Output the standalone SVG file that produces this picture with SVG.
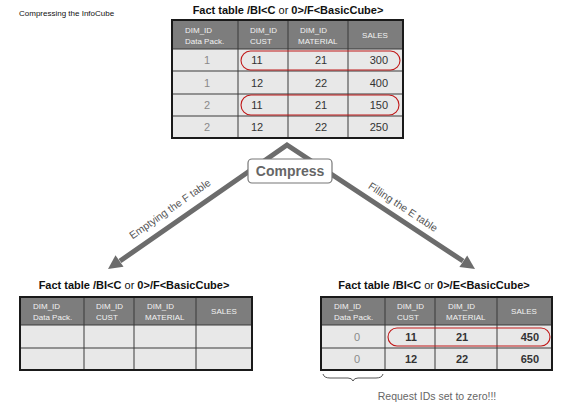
<svg xmlns="http://www.w3.org/2000/svg" width="577" height="407" viewBox="0 0 577 407">
<style>
text{font-family:"Liberation Sans",Arial,sans-serif}
.title{font-size:11px;font-weight:bold;fill:#111;text-anchor:middle}
.title .n{font-weight:normal}
.hdr{fill:#7d7d7d}
.cell{fill:#e8e8e8}
.grid{stroke:#3a3a3a;stroke-width:1;fill:none}
.outer{stroke:#1a1a1a;stroke-width:2;fill:none}
.ht{font-size:8px;fill:#f2f2f2}
.c{text-anchor:middle}
.e{text-anchor:end}
.dp{font-size:11px;fill:#8a8a8a;text-anchor:middle}
.dv{font-size:11px;fill:#333}
.db{font-size:11px;fill:#333;font-weight:bold}
.hl{fill:none;stroke:#c01818;stroke-width:1.1}
.arrow{stroke:#6c6c6c;stroke-width:5;fill:none;stroke-linejoin:miter}
.head{fill:#6c6c6c}
.lbl{font-size:10.5px;fill:#555;text-anchor:middle}
</style>

<text x="19" y="16" font-size="8" fill="#111" font-family="Liberation Sans, Arial, sans-serif">Compressing the InfoCube</text>

<g id="connectors">
  <path class="arrow" d="M120,261 L287,145 L463,261"/>
  <polygon class="head" points="108,269 123.5,266.7 115.5,255.3"/>
  <polygon class="head" points="475,269 459.4,267.1 467.2,255.5"/>
  <text class="lbl" transform="translate(172,212) rotate(-35)">Emptying the F table</text>
  <text class="lbl" transform="translate(401,210) rotate(33.5)">Filling the E table</text>
</g>

<g id="compress">
  <rect x="248" y="159" width="84" height="24" rx="4" fill="#fff" stroke="#777" stroke-width="1.2"/>
  <text x="290" y="176" text-anchor="middle" font-size="14" font-weight="bold" fill="#666">Compress</text>
</g>

<g id="table-f-top">
  <text class="title" x="288" y="14">Fact table /BI&lt;C <tspan class="n">or</tspan> 0&gt;/F&lt;BasicCube&gt;</text>
  <rect class="hdr" x="172" y="20" width="231" height="29"/>
  <rect class="cell" x="172" y="49" width="231" height="89"/>
  <path class="grid" d="M238,20V138M288,20V138M348,20V138M172,49H403M172,71H403M172,94H403M172,116H403"/>
  <rect class="outer" x="172" y="20" width="231" height="118"/>
  <text class="ht" x="185" y="33">DIM_ID</text>
  <text class="ht" x="185" y="44">Data Pack.</text>
  <text class="ht" x="250" y="33">DIM_ID</text>
  <text class="ht" x="250" y="44">CUST</text>
  <text class="ht" x="300" y="33">DIM_ID</text>
  <text class="ht" x="298" y="44">MATERIAL</text>
  <text class="ht c" x="375" y="38">SALES</text>
  <text class="dp" x="207" y="64">1</text>
  <text class="dv c" x="257" y="64">11</text>
  <text class="dv c" x="321" y="64">21</text>
  <text class="dv e" x="388" y="64">300</text>
  <text class="dp" x="207" y="86.5">1</text>
  <text class="dv c" x="257" y="86.5">12</text>
  <text class="dv c" x="321" y="86.5">22</text>
  <text class="dv e" x="388" y="86.5">400</text>
  <text class="dp" x="207" y="109">2</text>
  <text class="dv c" x="257" y="109">11</text>
  <text class="dv c" x="321" y="109">21</text>
  <text class="dv e" x="388" y="109">150</text>
  <text class="dp" x="207" y="131">2</text>
  <text class="dv c" x="257" y="131">12</text>
  <text class="dv c" x="321" y="131">22</text>
  <text class="dv e" x="388" y="131">250</text>
  <rect class="hl" x="241" y="51" width="159" height="19" rx="9.5"/>
  <rect class="hl" x="241" y="95" width="158" height="20" rx="10"/>
</g>

<g id="table-f-empty">
  <text class="title" x="134" y="289">Fact table /BI&lt;C <tspan class="n">or</tspan> 0&gt;/F&lt;BasicCube&gt;</text>
  <rect class="hdr" x="20" y="297" width="232" height="28"/>
  <rect class="cell" x="20" y="325" width="232" height="45"/>
  <path class="grid" d="M84,297V370M134,297V370M196,297V370M20,325H252M20,348H252"/>
  <rect class="outer" x="20" y="297" width="232" height="73"/>
  <text class="ht" x="33" y="309">DIM_ID</text>
  <text class="ht" x="33" y="320">Data Pack.</text>
  <text class="ht" x="96" y="309">DIM_ID</text>
  <text class="ht" x="96" y="320">CUST</text>
  <text class="ht" x="147" y="309">DIM_ID</text>
  <text class="ht" x="145" y="320">MATERIAL</text>
  <text class="ht c" x="224" y="314">SALES</text>
</g>

<g id="table-e">
  <text class="title" x="434" y="289">Fact table /BI&lt;C <tspan class="n">or</tspan> 0&gt;/E&lt;BasicCube&gt;</text>
  <rect class="hdr" x="321" y="297" width="231" height="28"/>
  <rect class="cell" x="321" y="325" width="231" height="45"/>
  <path class="grid" d="M385,297V370M435,297V370M497,297V370M321,325H552M321,348H552"/>
  <rect class="outer" x="321" y="297" width="231" height="73"/>
  <text class="ht" x="334" y="309">DIM_ID</text>
  <text class="ht" x="334" y="320">Data Pack.</text>
  <text class="ht" x="397" y="309">DIM_ID</text>
  <text class="ht" x="397" y="320">CUST</text>
  <text class="ht" x="448" y="309">DIM_ID</text>
  <text class="ht" x="446" y="320">MATERIAL</text>
  <text class="ht c" x="524" y="314">SALES</text>
  <text class="dp" x="357" y="340.5">0</text>
  <text class="db c" x="411" y="340.5">11</text>
  <text class="db c" x="462" y="340.5">21</text>
  <text class="db e" x="539" y="340.5">450</text>
  <text class="dp" x="357" y="363">0</text>
  <text class="db c" x="411" y="363">12</text>
  <text class="db c" x="462" y="363">22</text>
  <text class="db e" x="539" y="363">650</text>
  <rect class="hl" x="388" y="328" width="162" height="18" rx="9"/>
</g>

<g id="note">
  <path d="M323,374 Q324,378 330,378 L348,378 Q352,378 353,381 Q354,378 358,378 L376,378 Q382,378 383,374" fill="none" stroke="#555" stroke-width="1"/>
  <text x="437" y="400" text-anchor="middle" font-size="10.5" fill="#666">Request IDs set to zero!!!</text>
</g>
</svg>
